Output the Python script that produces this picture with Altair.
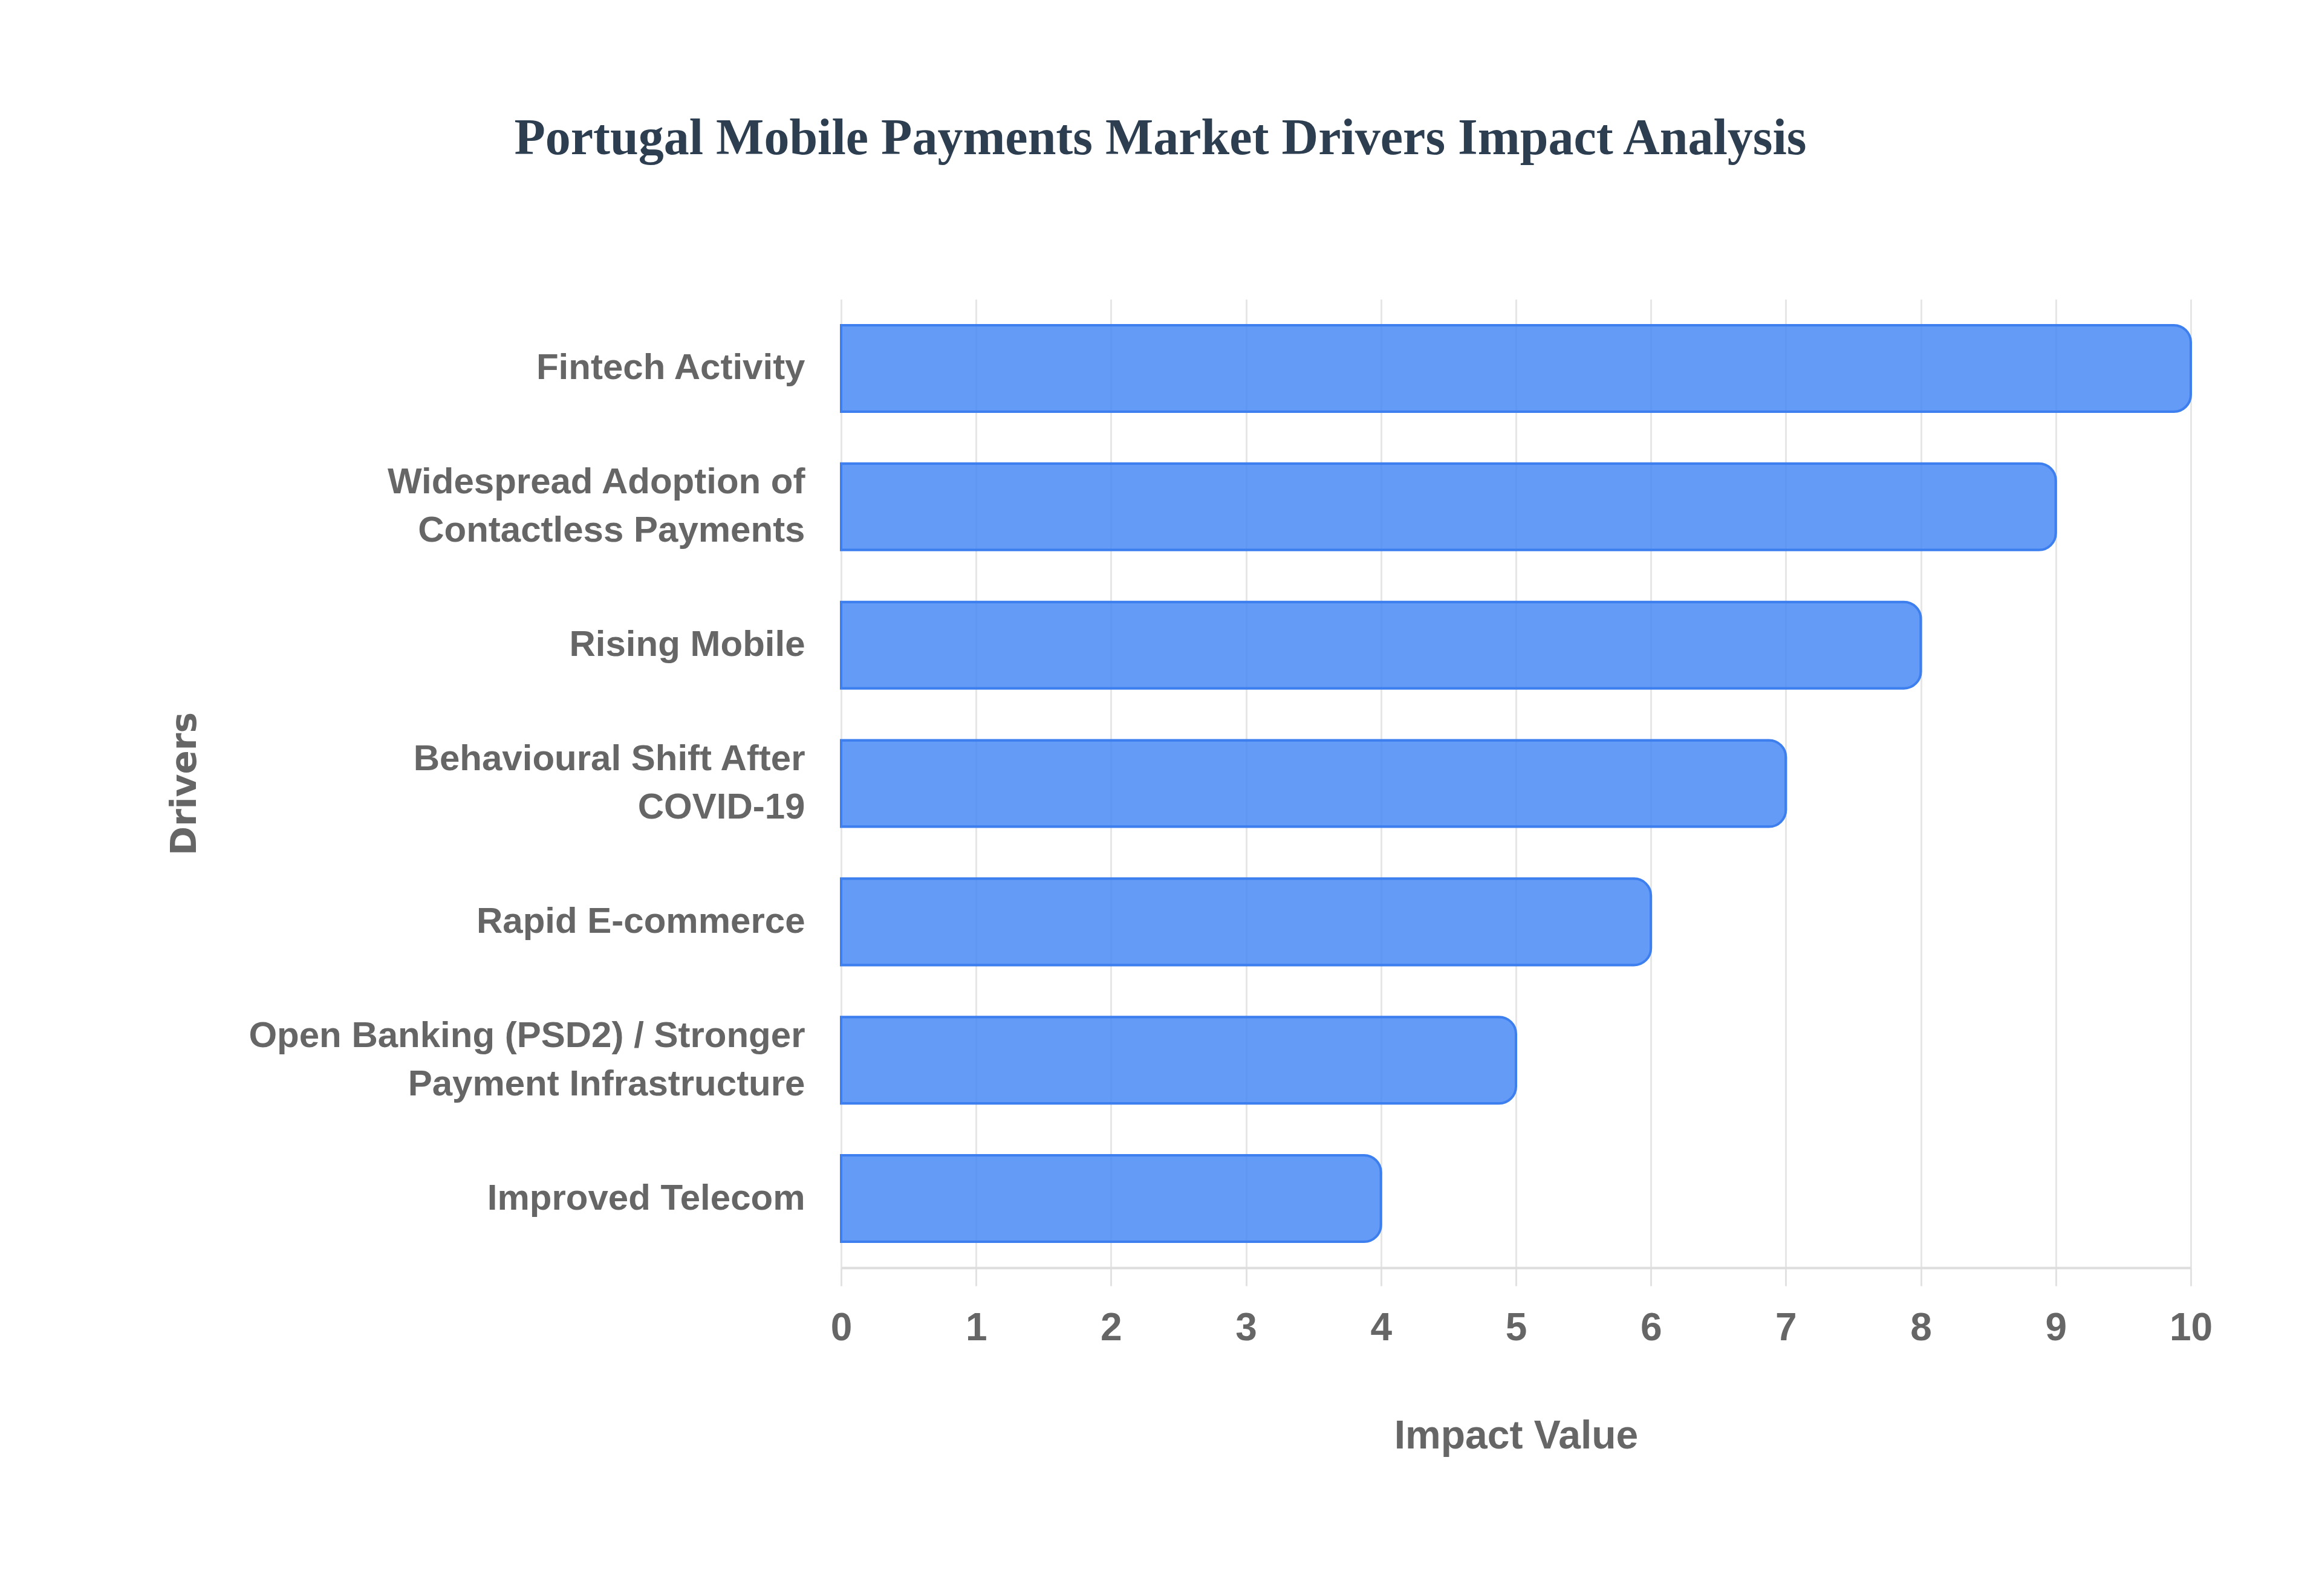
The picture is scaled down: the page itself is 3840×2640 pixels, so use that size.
import altair as alt
import pandas as pd

# drivers, top to bottom ("|" marks a line break in the axis label)
drivers = [
    "Fintech Activity",
    "Widespread Adoption of|Contactless Payments",
    "Rising Mobile",
    "Behavioural Shift After|COVID-19",
    "Rapid E-commerce",
    "Open Banking (PSD2) / Stronger|Payment Infrastructure",
    "Improved Telecom",
]
impact = [10, 9, 8, 7, 6, 5, 4]
x_ticks = [0, 1, 2, 3, 4, 5, 6, 7, 8, 9, 10]

source = pd.DataFrame({"Driver": drivers, "Impact": impact})

label_grey = "#666666"

bars = (
    alt.Chart(source)
    .mark_bar(
        color="#4285F4",
        fillOpacity=0.82,
        stroke="#3d7fef",
        strokeWidth=4,
        cornerRadiusEnd=28,
    )
    .encode(
        x=alt.X(
            "Impact:Q",
            scale=alt.Scale(domain=[0, 10], nice=False),
            axis=alt.Axis(
                title="Impact Value",
                values=x_ticks,
                format="d",
                grid=True,
                gridColor="#e6e6e6",
                gridWidth=3,
                domainColor="#dddddd",
                domainWidth=4,
                tickColor="#e2e2e2",
                tickWidth=3,
                tickSize=30,
                labelPadding=38,
                labelFlush=False,
                labelFont="Liberation Sans",
                labelFontWeight="bold",
                labelFontSize=64,
                labelColor=label_grey,
                titleFont="Liberation Sans",
                titleFontWeight="bold",
                titleFontSize=66,
                titleColor=label_grey,
                titleBaseline="alphabetic",
                titleY=298,
            ),
        ),
        y=alt.Y(
            "Driver:N",
            sort=drivers,
            scale=alt.Scale(paddingInner=0.375, paddingOuter=0.1875),
            axis=alt.Axis(
                title="Drivers",
                labelExpr="split(datum.label, '|')",
                # two-line labels: lift so both lines sit round the bar centre
                labelOffset={
                    "condition": {"test": "indexof(datum.value, '|') >= 0", "value": -40},
                    "value": 0,
                },
                domain=False,
                ticks=False,
                grid=False,
                labelPadding=60,
                labelFont="Liberation Sans",
                labelFontWeight="bold",
                labelFontSize=60,
                labelLineHeight=80,
                labelColor=label_grey,
                labelLimit=2000,
                titleFont="DejaVu Sans",
                titleFontWeight="bold",
                titleFontSize=58,
                titleColor=label_grey,
                titleBaseline="alphabetic",
                titleAlign="center",
                titleX=-1068,
                titleY=801,
            ),
        ),
    )
)

chart = bars.properties(
    width=2232,
    height=1602,
    autosize="none",
    padding={"left": 1383, "top": 487, "right": 209, "bottom": 535},
    title=alt.TitleParams(
        "Portugal Mobile Payments Market Drivers Impact Analysis",
        font="Liberation Serif",
        fontSize=84,
        fontWeight="bold",
        color="#2c3e50",
        anchor="middle",
        baseline="alphabetic",
        offset=156,
        dx=-588,
    ),
).configure_view(stroke=None)

chart.save("out.html", embed_options={"renderer": "svg", "actions": False})
